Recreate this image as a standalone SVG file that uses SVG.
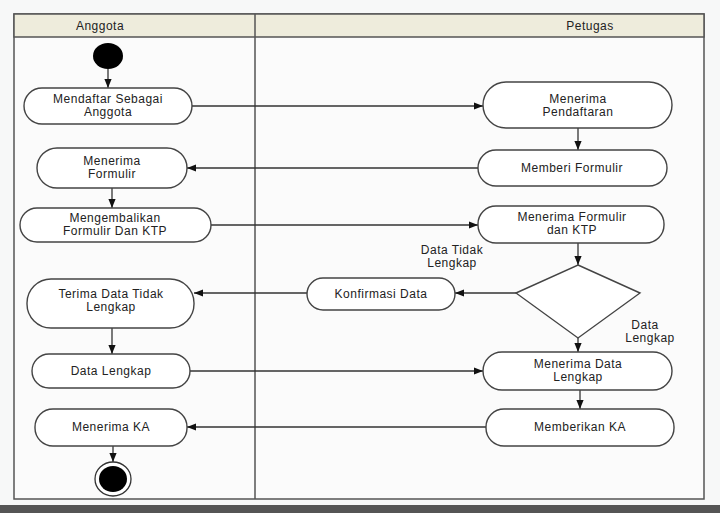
<svg xmlns="http://www.w3.org/2000/svg" width="720" height="513" viewBox="0 0 720 513">
<defs>
<marker id="a" viewBox="0 0 10 10" refX="10" refY="5" markerWidth="9" markerHeight="9" markerUnits="userSpaceOnUse" orient="auto"><path d="M0,1 L10,5 L0,9 z" fill="#111"/></marker>
</defs>
<style>
.n{fill:#fff;stroke:#444;stroke-width:1.4}
.t{font-family:"Liberation Sans",Arial,sans-serif;font-size:12px;letter-spacing:0.5px;fill:#222;text-anchor:middle}
.c line{stroke:#333;stroke-width:1.3;marker-end:url(#a)}
</style>
<rect width="720" height="513" fill="#f7f8f8"/>
<rect x="0" y="505" width="720" height="8" fill="#555"/>
<rect x="14" y="14" width="690" height="485" fill="#fbfbfb" stroke="#555" stroke-width="1.5"/>
<rect x="14" y="14" width="690" height="23" fill="#eeecdc" stroke="#555" stroke-width="1.5"/>
<line x1="255" y1="14" x2="255" y2="499" stroke="#555" stroke-width="1.5"/>
<text class="t" x="100" y="30">Anggota</text>
<text class="t" x="590" y="30">Petugas</text>
<g class="c">
<line x1="108" y1="69" x2="108" y2="88"/>
<line x1="192" y1="106" x2="483" y2="106"/>
<line x1="578" y1="128" x2="578" y2="150"/>
<line x1="478" y1="168" x2="187" y2="168"/>
<line x1="112" y1="188" x2="112" y2="208"/>
<line x1="211" y1="225" x2="478" y2="225"/>
<line x1="578" y1="243" x2="578" y2="265"/>
<line x1="516" y1="293" x2="455" y2="293"/>
<line x1="307" y1="293" x2="194" y2="293"/>
<line x1="112" y1="328" x2="112" y2="354"/>
<line x1="578" y1="338" x2="578" y2="352"/>
<line x1="190" y1="371" x2="483" y2="371"/>
<line x1="580" y1="390" x2="580" y2="409"/>
<line x1="486" y1="427" x2="187" y2="427"/>
<line x1="113" y1="446" x2="113" y2="462"/>
</g>
<g id="start"><ellipse cx="108" cy="56" rx="15" ry="13" fill="#000"/></g>
<g id="n1"><rect class="n" x="24" y="88" width="168" height="36" rx="18"/><text class="t" x="108" y="103">Mendaftar Sebagai</text><text class="t" x="108" y="116">Anggota</text></g>
<g id="n2"><rect class="n" x="483" y="82" width="189" height="46" rx="23"/><text class="t" x="578" y="103">Menerima</text><text class="t" x="578" y="116">Pendaftaran</text></g>
<g id="n3"><rect class="n" x="478" y="150" width="189" height="36" rx="18"/><text class="t" x="572" y="172">Memberi Formulir</text></g>
<g id="n4"><rect class="n" x="37" y="148" width="150" height="40" rx="20"/><text class="t" x="112" y="165">Menerima</text><text class="t" x="112" y="178">Formulir</text></g>
<g id="n5"><rect class="n" x="20" y="208" width="191" height="34" rx="17"/><text class="t" x="115" y="222">Mengembalikan</text><text class="t" x="115" y="235">Formulir Dan KTP</text></g>
<g id="n6"><rect class="n" x="478" y="206" width="186" height="37" rx="18"/><text class="t" x="572" y="221">Menerima Formulir</text><text class="t" x="572" y="234">dan KTP</text></g>
<g id="dec"><polygon class="n" points="578,265 640,293 578,338 516,293"/></g>
<text class="t" x="452" y="254">Data Tidak</text><text class="t" x="452" y="267">Lengkap</text>
<g id="n7"><rect class="n" x="307" y="278" width="148" height="32" rx="16"/><text class="t" x="381" y="298">Konfirmasi Data</text></g>
<g id="n8"><rect class="n" x="27" y="279" width="167" height="49" rx="24"/><text class="t" x="111" y="298">Terima Data Tidak</text><text class="t" x="111" y="311">Lengkap</text></g>
<text class="t" x="645" y="329">Data</text><text class="t" x="650" y="342">Lengkap</text>
<g id="n9"><rect class="n" x="32" y="354" width="158" height="34" rx="17"/><text class="t" x="111" y="375">Data Lengkap</text></g>
<g id="n10"><rect class="n" x="483" y="352" width="189" height="38" rx="19"/><text class="t" x="578" y="368">Menerima Data</text><text class="t" x="578" y="381">Lengkap</text></g>
<g id="n11"><rect class="n" x="486" y="409" width="188" height="37" rx="18"/><text class="t" x="580" y="431">Memberikan KA</text></g>
<g id="n12"><rect class="n" x="35" y="409" width="152" height="37" rx="18"/><text class="t" x="111" y="431">Menerima KA</text></g>
<g id="end"><ellipse cx="113" cy="479" rx="18" ry="17" fill="#fff" stroke="#333" stroke-width="1.3"/><ellipse cx="113" cy="479" rx="14" ry="13" fill="#000"/></g>
</svg>
